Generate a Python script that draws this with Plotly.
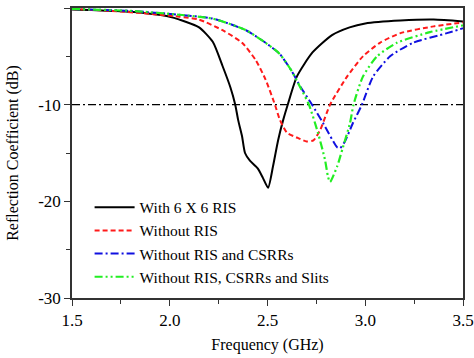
import plotly.graph_objects as go

# ---- data ----
names = ["With 6 X 6 RIS", "Without RIS", "Without RIS and CSRRs", "Without RIS, CSRRs and Slits"]

f_ris = [1.5, 1.6, 1.7, 1.8, 1.9, 2.0, 2.05, 2.15, 2.22, 2.27, 2.31, 2.335, 2.35, 2.37, 2.385,
         2.41, 2.45, 2.477, 2.503, 2.528, 2.554, 2.58, 2.605, 2.65, 2.73, 2.83, 2.92, 3.0, 3.18, 3.35, 3.5]
s_ris = [-0.15, -0.2, -0.3, -0.4, -0.6, -0.9, -1.2, -2.0, -3.5, -6.0, -8.2, -10.0, -11.6, -13.3, -15.0,
         -15.8, -16.6, -17.6, -18.6, -16.4, -13.7, -11.6, -9.9, -7.1, -4.6, -2.8, -2.0, -1.6, -1.3, -1.2, -1.4]

f_nris = [1.5, 1.7, 1.9, 2.05, 2.15, 2.27, 2.37, 2.44, 2.49, 2.538, 2.564, 2.6, 2.65, 2.70, 2.735,
          2.77, 2.82, 2.907, 2.988, 3.075, 3.18, 3.35, 3.5]
s_nris = [-0.1, -0.3, -0.6, -0.9, -1.2, -2.3, -3.6, -5.4, -7.4, -10.0, -11.6, -12.9, -13.4, -13.8, -13.7,
          -12.6, -10.0, -7.1, -5.0, -3.6, -2.6, -1.9, -1.5]

f_ncsrr = [1.5, 1.8, 2.05, 2.22, 2.39, 2.49, 2.56, 2.62, 2.67, 2.728, 2.784, 2.856, 2.871, 2.896,
           2.937, 2.983, 3.04, 3.127, 3.244, 3.418, 3.5]
s_ncsrr = [-0.1, -0.3, -0.7, -1.1, -2.3, -3.6, -4.7, -6.4, -8.2, -10.0, -11.9, -14.4, -14.5, -13.8,
           -11.9, -10.0, -7.1, -5.0, -3.6, -2.6, -2.1]

f_nslit = [1.5, 1.8, 2.05, 2.22, 2.39, 2.49, 2.56, 2.62, 2.67, 2.712, 2.758, 2.794, 2.81, 2.82,
           2.856, 2.886, 2.922, 2.94, 2.988, 3.06, 3.162, 3.331, 3.5]
s_nslit = [-0.1, -0.3, -0.7, -1.1, -2.3, -3.6, -4.7, -6.4, -8.3, -10.0, -12.9, -15.7, -17.5, -18.0,
           -16.4, -14.4, -11.9, -10.0, -7.1, -5.0, -3.6, -2.5, -1.8]

ref_level = [-10, -10]
ref_x = [1.5, 3.5]

x_ticks = [1.5, 2.0, 2.5, 3.0, 3.5]
x_tick_text = ["1.5", "2.0", "2.5", "3.0", "3.5"]
y_ticks = [0, -10, -20, -30]
y_tick_text = ["0", "-10", "-20", "-30"]

FONT = "Liberation Serif, Times New Roman, DejaVu Serif, serif"

fig = go.Figure()
fig.add_trace(go.Scatter(x=ref_x, y=ref_level, mode="lines", showlegend=False,
                         line=dict(color="black", width=1.2, dash="8px,3px,2px,3px")))
styles = [
    dict(color="black", width=2, dash="solid"),
    dict(color="#ff1a1a", width=2, dash="5px,3px"),
    dict(color="#1010e0", width=2, dash="8px,3px,2px,3px"),
    dict(color="#22ee22", width=2.2, dash="8px,3px,2px,3px,2px,3px"),
]
for fx, sy, nm, st in zip([f_ris, f_nris, f_ncsrr, f_nslit], [s_ris, s_nris, s_ncsrr, s_nslit], names, styles):
    fig.add_trace(go.Scatter(x=fx, y=sy, mode="lines", name=nm, line=dict(shape="spline", smoothing=0.6, **st)))

axis_common = dict(showgrid=False, zeroline=False, showline=True, linecolor="#333333", linewidth=1.5,
                   mirror=True, ticks="outside", ticklen=6, tickwidth=1.2, tickcolor="#333333",
                   automargin=False,
                   tickfont=dict(family=FONT, size=17, color="black"))
fig.update_xaxes(range=[1.5, 3.5], tickvals=x_ticks, ticktext=x_tick_text,
                 title=dict(text="Frequency (GHz)", font=dict(family=FONT, size=16, color="black"), standoff=10),
                 minor=dict(ticks="outside", ticklen=4, dtick=0.25, tickcolor="#333333"), **axis_common)
fig.update_yaxes(range=[-30, 0], tickvals=y_ticks, ticktext=y_tick_text,
                 title=dict(text="Reflection Coefficient (dB)", font=dict(family=FONT, size=16, color="black"), standoff=16),
                 minor=dict(ticks="outside", ticklen=4, dtick=5, tickcolor="#333333"), **axis_common)
fig.update_layout(
    width=474, height=358,
    margin=dict(l=72, r=11, t=8, b=60),
    paper_bgcolor="white", plot_bgcolor="white",
    showlegend=True,
    legend=dict(x=0.045, y=0.37, xanchor="left", yanchor="top", bgcolor="rgba(0,0,0,0)",
                font=dict(family=FONT, size=15.5, color="black"), tracegroupgap=0, itemwidth=40),
)
fig.write_html("out.html", config={"displayModeBar": False},
               post_script="document.body.style.margin='0';document.body.style.overflow='hidden';")
